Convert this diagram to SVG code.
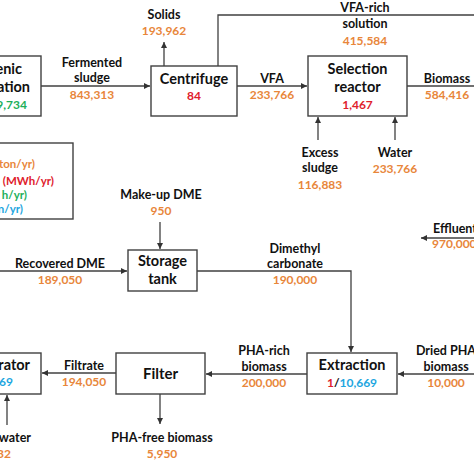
<svg xmlns="http://www.w3.org/2000/svg" width="474" height="474" viewBox="0 0 474 474">
<defs>
<marker id="ah" viewBox="0 0 10 10" refX="10" refY="5" markerWidth="6" markerHeight="6" orient="auto" markerUnits="userSpaceOnUse"><path d="M0,0 L10,5 L0,10 z" fill="#333"/></marker>
<style>
text{font-family:Lato,"Liberation Sans",Arial,sans-serif;font-weight:700;}
.l{font-size:12.5px;fill:#111;text-anchor:middle;}
.n{font-size:14.5px;fill:#111;text-anchor:middle;}
.o{font-size:12px;fill:#E8863A;text-anchor:middle;}
.r{fill:#E0202C;}
.g{fill:#1DAF5A;}
.b{fill:#1EA6E0;}
.box{fill:#fff;stroke:#404040;stroke-width:1.4;}
.c{fill:none;stroke:#404040;stroke-width:1.3;}
.a{marker-end:url(#ah);}
</style>
</defs>
<rect width="474" height="474" fill="#fff"/>
<g id="connectors">
<path class="c a" d="M41,86 H150"/>
<path class="c a" d="M164,66 V42"/>
<path class="c" d="M218,66 V15 H474"/>
<path class="c a" d="M237,86 H307"/>
<path class="c" d="M407,86 H474"/>
<path class="c a" d="M318,140 V117"/>
<path class="c a" d="M395,140 V117"/>
<path class="c a" d="M160,222 V249"/>
<path class="c a" d="M0,271 H127"/>
<path class="c a" d="M197,271 H351 V352"/>
<path class="c a" d="M474,238 H421"/>
<path class="c a" d="M474,374 H398"/>
<path class="c a" d="M307,374 H206"/>
<path class="c a" d="M116,373 H42"/>
<path class="c a" d="M7,425 V395"/>
<path class="c a" d="M160,394 V424"/>
</g>
<g id="labels">
<text class="l" x="164" y="19">Solids</text>
<text class="o" x="164" y="35">193,962</text>
<text class="l" x="92" y="67">Fermented</text>
<text class="l" x="92" y="82">sludge</text>
<text class="o" x="92" y="99">843,313</text>
<text class="l" x="272" y="83">VFA</text>
<text class="o" x="272" y="99">233,766</text>
<text class="l" x="365" y="12">VFA-rich</text>
<text class="l" x="365" y="28">solution</text>
<text class="o" x="365" y="45">415,584</text>
<text class="l" x="447" y="83">Biomass</text>
<text class="o" x="447" y="99">584,416</text>
<text class="l" x="320" y="157">Excess</text>
<text class="l" x="320" y="172">sludge</text>
<text class="o" x="320" y="189">116,883</text>
<text class="l" x="395" y="157">Water</text>
<text class="o" x="395" y="173">233,766</text>
<text class="l" x="161" y="199">Make-up DME</text>
<text class="o" x="161" y="215">950</text>
<text class="l" x="60" y="268">Recovered DME</text>
<text class="o" x="60" y="284">189,050</text>
<text class="l" x="295" y="253">Dimethyl</text>
<text class="l" x="295" y="268">carbonate</text>
<text class="o" x="295" y="284">190,000</text>
<text class="l" x="433" y="233" style="text-anchor:start">Effluent</text>
<text class="o" x="432" y="248" style="text-anchor:start">970,000</text>
<text class="l" x="264" y="355">PHA-rich</text>
<text class="l" x="264" y="371">biomass</text>
<text class="o" x="264" y="387">200,000</text>
<text class="l" x="446" y="355">Dried PHA</text>
<text class="l" x="446" y="371">biomass</text>
<text class="o" x="446" y="387">10,000</text>
<text class="l" x="84" y="370">Filtrate</text>
<text class="o" x="84" y="386">194,050</text>
<text class="l" x="31" y="442" style="text-anchor:end">water</text>
<text class="o" x="11" y="458" style="text-anchor:end">32</text>
<text class="l" x="162" y="442">PHA-free biomass</text>
<text class="o" x="162" y="458">5,950</text>
</g>
<g id="fermentation">
<rect class="box" x="-5" y="56" width="46" height="60"/>
<text class="n" x="22" y="74" style="text-anchor:end">enic</text>
<text class="n" x="30" y="92" style="text-anchor:end">ation</text>
<text class="o g" x="27" y="109" style="text-anchor:end">9,734</text>
</g>
<g id="centrifuge">
<rect class="box" x="151" y="66" width="86" height="50"/>
<text class="n" x="194" y="84">Centrifuge</text>
<text class="o r" x="194" y="100">84</text>
</g>
<g id="selection-reactor">
<rect class="box" x="308" y="56" width="99" height="60"/>
<text class="n" x="357.5" y="74">Selection</text>
<text class="n" x="357.5" y="92">reactor</text>
<text class="o r" x="357.5" y="109">1,467</text>
</g>
<g id="legend">
<rect class="box" x="-5" y="143" width="78" height="76"/>
<text class="o" x="35" y="168" style="text-anchor:end;font-size:11.5px">ton/yr)</text>
<text class="o r" x="54" y="185" style="text-anchor:end;font-size:11.5px">(MWh/yr)</text>
<text class="o g" x="27" y="199" style="text-anchor:end;font-size:11.5px">h/yr)</text>
<text class="o b" x="23" y="213" style="text-anchor:end;font-size:11.5px">n/yr)</text>
</g>
<g id="storage-tank">
<rect class="box" x="128" y="250" width="69" height="41"/>
<text class="n" x="162.5" y="266">Storage</text>
<text class="n" x="162.5" y="284">tank</text>
</g>
<g id="extraction">
<rect class="box" x="307" y="353" width="90" height="41"/>
<text class="n" x="352" y="370">Extraction</text>
<text class="o" x="352" y="387"><tspan class="r">1</tspan><tspan fill="#111">/</tspan><tspan class="b">10,669</tspan></text>
</g>
<g id="filter">
<rect class="box" x="116" y="353" width="89" height="41"/>
<text class="n" x="160.5" y="379" style="font-size:15px">Filter</text>
</g>
<g id="separator">
<rect class="box" x="-5" y="353" width="46" height="41"/>
<text class="n" x="30" y="370" style="text-anchor:end">rator</text>
<text class="o b" x="13" y="386" style="text-anchor:end">69</text>
</g>
</svg>
